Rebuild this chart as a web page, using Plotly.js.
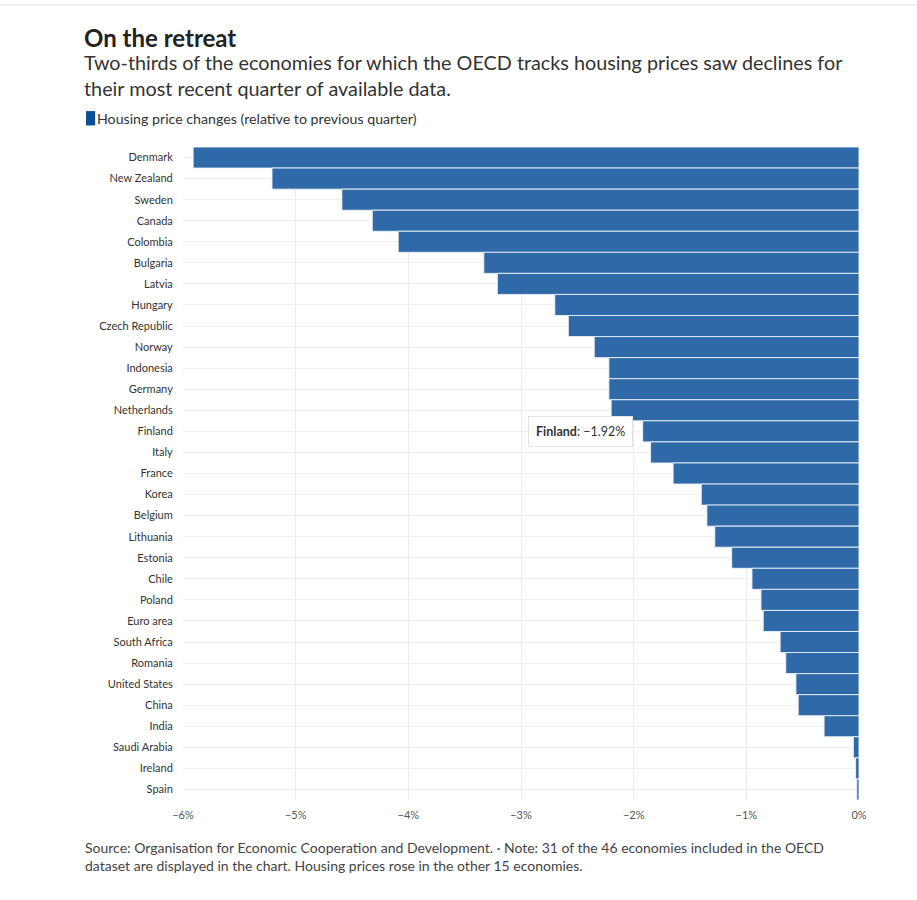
<!DOCTYPE html>
<html>
<head>
<meta charset="utf-8">
<script src="https://cdn.plot.ly/plotly-3.0.1.min.js"></script>
<style>
  html, body { margin: 0; padding: 0; background: #fff; }
  #chart { width: 917px; height: 900px; }
</style>
</head>
<body>
<div id="chart"></div>
<script>
const countries = ["Denmark","New Zealand","Sweden","Canada","Colombia","Bulgaria","Latvia","Hungary","Czech Republic","Norway","Indonesia","Germany","Netherlands","Finland","Italy","France","Korea","Belgium","Lithuania","Estonia","Chile","Poland","Euro area","South Africa","Romania","United States","China","India","Saudi Arabia","Ireland","Spain"];
const changes = [-5.91,-5.21,-4.59,-4.32,-4.09,-3.33,-3.21,-2.70,-2.58,-2.35,-2.22,-2.22,-2.20,-1.92,-1.85,-1.65,-1.40,-1.35,-1.28,-1.13,-0.95,-0.87,-0.85,-0.70,-0.65,-0.56,-0.54,-0.31,-0.05,-0.03,-0.02];
const tickVals = [-6,-5,-4,-3,-2,-1,0];
const tickText = ["\u22126%","\u22125%","\u22124%","\u22123%","\u22122%","\u22121%","0%"];
const seriesName = "Housing price changes (relative to previous quarter)";
const highlighted = "Finland";

const font = "Lato, 'Open Sans', sans-serif";
const hi = countries.indexOf(highlighted);

const trace = {
  type: "bar",
  orientation: "h",
  x: changes,
  y: countries,
  name: seriesName,
  marker: { color: "#2f69a8", line: { color: "rgba(235,242,250,0.9)", width: 1 } },
  hoverinfo: "skip"
};

const layout = {
  width: 917, height: 900,
  paper_bgcolor: "#fff", plot_bgcolor: "#fff",
  margin: { l: 183, r: 58, t: 147, b: 100 },
  showlegend: false,
  bargap: 0,
  font: { family: font, color: "#333" },
  xaxis: {
    range: [-6, 0],
    tickvals: tickVals, ticktext: tickText,
    showgrid: true, gridcolor: "#ececec", gridwidth: 1,
    zeroline: false, showline: false,
    tickfont: { size: 11, color: "#555", family: font },
    ticks: "outside", ticklen: 5, tickcolor: "rgba(0,0,0,0)",
    fixedrange: true
  },
  yaxis: {
    autorange: "reversed",
    type: "category",
    showgrid: true, gridcolor: "#efefef", gridwidth: 1,
    zeroline: false, showline: false,
    tickfont: { size: 11, color: "#333", family: font },
    ticks: "outside", ticklen: 7, tickcolor: "rgba(0,0,0,0)",
    fixedrange: true
  },
  shapes: [
    { type: "line", xref: "paper", yref: "paper", x0: -0.3, x1: 1.1, y0: 1.2175, y1: 1.2175,
      line: { color: "#e3e3e3", width: 1 } },
    { type: "rect", xref: "paper", yref: "paper", x0: -0.1435, x1: -0.130, y0: 1.033, y1: 1.055,
      fillcolor: "#0b4f96", line: { width: 0 } }
  ],
  annotations: [
    { xref: "paper", yref: "paper", x: -0.149, y: 1.167, xanchor: "left", yanchor: "middle",
      text: "<b>On the retreat</b>", showarrow: false,
      font: { size: 24, color: "#222", family: font } },
    { xref: "paper", yref: "paper", x: -0.149, y: 1.111, xanchor: "left", yanchor: "middle",
      align: "left",
      text: "Two-thirds of the economies for which the OECD tracks housing prices saw declines for<br>their most recent quarter of available data.",
      showarrow: false,
      font: { size: 19.8, color: "#333", family: font } },
    { xref: "paper", yref: "paper", x: -0.130, y: 1.0444, xanchor: "left", yanchor: "middle",
      text: seriesName, showarrow: false,
      font: { size: 14.2, color: "#333", family: font } },
    { xref: "paper", yref: "paper", x: -0.148, y: -0.0865, xanchor: "left", yanchor: "middle",
      align: "left",
      text: "Source: Organisation for Economic Cooperation and Development. \u00b7 Note: 31 of the 46 economies included in the OECD<br>dataset are displayed in the chart. Housing prices rose in the other 15 economies.",
      showarrow: false,
      font: { size: 14, color: "#444", family: font } },
    { xref: "x", yref: "y", x: changes[hi], y: countries[hi], xanchor: "right", yanchor: "middle",
      xshift: -10,
      text: "<b>" + countries[hi] + "</b>: \u2212" + Math.abs(changes[hi]).toFixed(2) + "%",
      showarrow: false, bgcolor: "#ffffff", bordercolor: "#e2e2e2", borderwidth: 1, borderpad: 7,
      font: { size: 12.5, color: "#333", family: font } }
  ]
};

Plotly.newPlot("chart", [trace], layout, { displayModeBar: false, staticPlot: true });
</script>
</body>
</html>
